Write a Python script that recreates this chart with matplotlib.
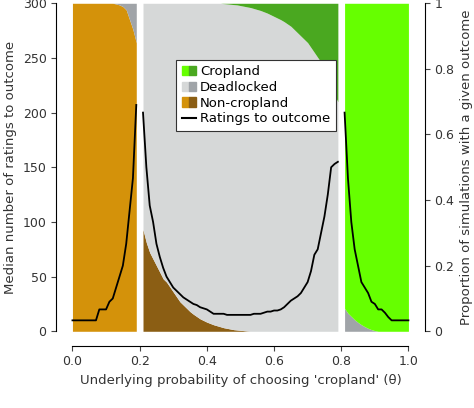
import matplotlib.pyplot as plt
import numpy as np
from matplotlib.patches import Patch
from matplotlib.legend_handler import HandlerTuple

# theta values per segment (gaps at 0.2 and 0.8)
theta_left = [round(0.01 * i, 2) for i in range(0, 20)]
theta_mid = [round(0.01 * i, 2) for i in range(21, 80)]
theta_right = [round(0.01 * i, 2) for i in range(81, 101)]

# median ratings to outcome
ratings_left = [10, 10, 10, 10, 10, 10, 10, 10, 20, 20, 20, 27, 30, 40, 50, 60, 80, 110, 140, 207]
ratings_mid = [200, 150, 115, 100, 80, 68, 58, 50, 45, 40, 37, 34, 31, 29, 27, 25, 24, 22, 21, 20,
               18, 16, 16, 16, 16, 15, 15, 15, 15, 15, 15, 15, 15, 16, 16, 16, 17, 18, 18, 19,
               19, 20, 22, 25, 28, 30, 32, 35, 40, 45, 55, 70, 75, 90, 105, 125, 150, 153, 155]
ratings_right = [200, 140, 100, 75, 60, 45, 40, 35, 27, 25, 20, 20, 17, 13, 10, 10, 10, 10, 10, 10]

# proportions of outcomes
noncrop_left = [1, 1, 1, 1, 1, 1, 1, 1, 1, 1, 1, 1, 1, 0.998, 0.995, 0.99, 0.98, 0.95, 0.92, 0.88]
noncrop_mid = [0.31, 0.27, 0.24, 0.22, 0.20, 0.18, 0.16, 0.15, 0.135, 0.12, 0.105, 0.09, 0.08, 0.07, 0.06,
               0.052, 0.045, 0.038, 0.033, 0.028, 0.024, 0.02, 0.017, 0.014, 0.011, 0.009, 0.007, 0.005, 0.004, 0.003,
               0.002, 0.001, 0, 0, 0, 0, 0, 0, 0, 0, 0, 0, 0, 0, 0, 0, 0, 0, 0, 0, 0, 0, 0, 0, 0, 0, 0, 0, 0]
crop_mid = [0, 0, 0, 0, 0, 0, 0, 0, 0, 0, 0, 0, 0, 0, 0, 0, 0, 0, 0, 0, 0, 0, 0, 0, 0.001, 0.002, 0.003, 0.004, 0.005, 0.007,
            0.009, 0.011, 0.013, 0.016, 0.019, 0.022, 0.026, 0.03, 0.035, 0.04, 0.045, 0.05, 0.056, 0.063, 0.07,
            0.08, 0.09, 0.1, 0.11, 0.12, 0.135, 0.15, 0.165, 0.18, 0.21, 0.23, 0.25, 0.28, 0.30]
deadlock_right = [0.07, 0.055, 0.045, 0.035, 0.027, 0.02, 0.014, 0.009, 0.005, 0.002, 0, 0, 0, 0, 0, 0, 0, 0, 0, 0]

c_orange, c_brown = "#D4920A", "#8B5E14"
c_grey_light, c_grey_dark = "#D6D8D8", "#A0A4A8"
c_green_bright, c_green_dark = "#66FF00", "#4AA820"

fig = plt.figure(figsize=(4.74, 4.08), dpi=100)
ax1 = fig.add_axes([0.1245, 0.18, 0.7655, 0.82])
ax2 = ax1.twinx()

# proportion areas (right axis)
nl = np.array(noncrop_left)
ax2.fill_between(theta_left, 0, nl, color=c_orange, lw=0)
ax2.fill_between(theta_left, nl, 1, color=c_grey_dark, lw=0)
nm, cm = np.array(noncrop_mid), np.array(crop_mid)
ax2.fill_between(theta_mid, 0, nm, color=c_brown, lw=0)
ax2.fill_between(theta_mid, nm, 1 - cm, color=c_grey_light, lw=0)
ax2.fill_between(theta_mid, 1 - cm, 1, color=c_green_dark, lw=0)
dr = np.array(deadlock_right)
ax2.fill_between(theta_right, 0, dr, color=c_grey_dark, lw=0)
ax2.fill_between(theta_right, dr, 1, color=c_green_bright, lw=0)

# ratings line (left axis), drawn on top
ax1.set_zorder(2)
ax1.patch.set_visible(False)
for t, r in [(theta_left, ratings_left), (theta_mid, ratings_mid), (theta_right, ratings_right)]:
    ax1.plot(t, r, color="black", lw=1.3)

ax1.set_xlim(-0.04, 1.04)
ax1.set_ylim(-3, 303)
ax2.set_ylim(-0.01, 1.01)
ax1.set_xticks([0, 0.2, 0.4, 0.6, 0.8, 1.0])
ax1.set_xticklabels(["0.0", "0.2", "0.4", "0.6", "0.8", "1.0"])
ax1.set_yticks(range(0, 301, 50))
ax2.set_yticks([0, 0.2, 0.4, 0.6, 0.8, 1])
ax2.set_yticklabels(["0", "0.2", "0.4", "0.6", "0.8", "1"])

for ax in (ax1, ax2):
    ax.spines["top"].set_visible(False)
    ax.tick_params(labelsize=9, color="#444444", labelcolor="#333333")
ax1.spines["right"].set_visible(False)
ax2.spines["left"].set_visible(False)
ax2.spines["bottom"].set_visible(False)
ax1.spines["left"].set_bounds(0, 300)
ax1.spines["bottom"].set_bounds(0, 1)
ax2.spines["right"].set_bounds(0, 1)
ax1.spines["bottom"].set_position(("outward", 8))
ax1.spines["left"].set_position(("outward", 2))
ax2.spines["right"].set_position(("outward", 2))

ax1.set_xlabel("Underlying probability of choosing 'cropland' (\u03b8)", fontsize=9.5, color="#333333")
ax1.set_ylabel("Median number of ratings to outcome", fontsize=9.5, color="#333333")
ax2.set_ylabel("Proportion of simulations with a given outcome", fontsize=9.5, color="#333333")

handles = [
    (Patch(color=c_green_bright), Patch(color=c_green_dark)),
    (Patch(color=c_grey_light), Patch(color=c_grey_dark)),
    (Patch(color=c_orange), Patch(color=c_brown)),
    plt.Line2D([], [], color="black", lw=1.5),
]
labels = ["Cropland", "Deadlocked", "Non-cropland", "Ratings to outcome"]
leg = ax1.legend(handles, labels, handler_map={tuple: HandlerTuple(ndivide=None, pad=0)},
                 loc="upper left", bbox_to_anchor=(0.305, 0.84), fontsize=9.5, fancybox=False,
                 framealpha=1, edgecolor="#333333", handlelength=1.1, handletextpad=0.3,
                 borderpad=0.4, labelspacing=0.2)
leg.get_frame().set_linewidth(0.8)

fig.savefig("out.png", dpi=100)
